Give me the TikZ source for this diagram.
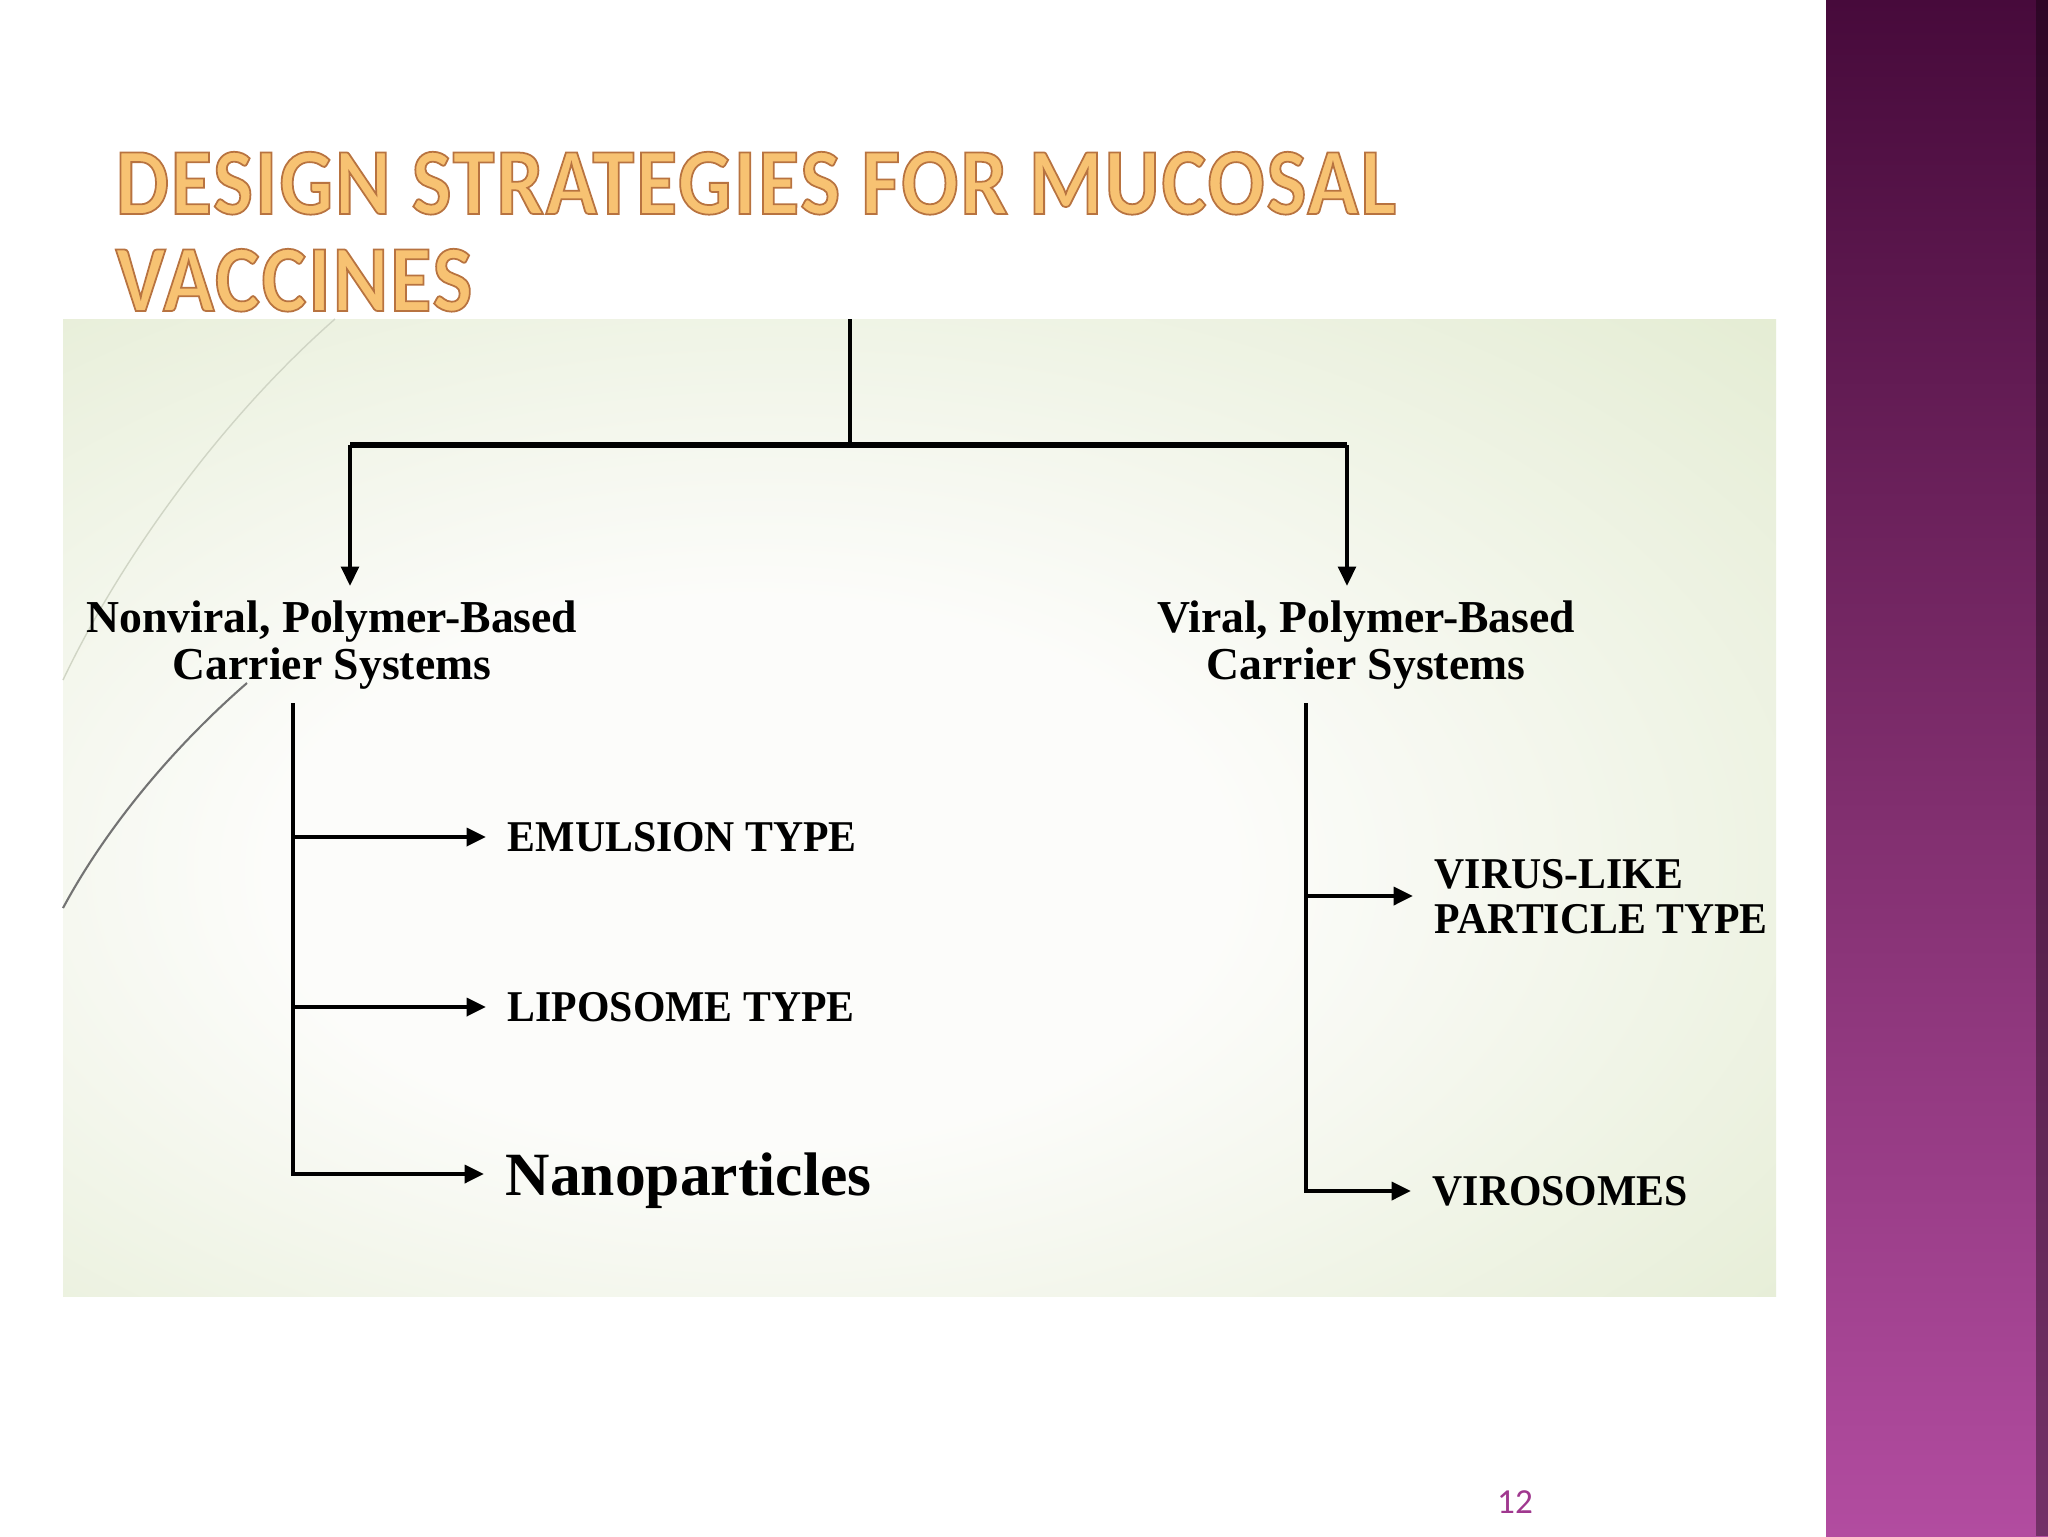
\documentclass[tikz,border=0pt]{standalone}
\usepackage{fontspec}
\usepackage{xcolor}
\usepackage{tikz}
\usetikzlibrary{positioning,calc,arrows.meta,shadings}
\setmainfont{Liberation Serif}
\newfontfamily\leaffont[FakeStretch=0.95]{Liberation Serif}
\newfontfamily\titlefont[LetterSpace=2,FakeStretch=0.89]{Carlito}
\newfontfamily\slidenumfont{Carlito}
\definecolor{panelout}{HTML}{DCE7C6}
\definecolor{panelin}{HTML}{FCFCFA}
\definecolor{plumtop}{HTML}{470A3B}
\definecolor{plummid}{HTML}{7E2D6C}
\definecolor{plumbot}{HTML}{B24CA0}
\definecolor{titlefill}{HTML}{F7C272}
\definecolor{pagenum}{HTML}{A0388F}
\pgfdeclareradialshading{panelglow}{\pgfpoint{-6bp}{-4bp}}{color(0bp)=(panelin); color(14bp)=(panelin); color(48bp)=(panelout); color(80bp)=(panelout)}
\newcommand{\outlined}[1]{\special{pdf:literal direct 2 Tr 0.5 w 0.72 0.45 0.25 RG}#1\special{pdf:literal direct 0 Tr}}

\begin{document}
\begin{tikzpicture}[
    x=0.1mm, y=-0.1mm,
    hdr/.style={font=\fontsize{13}{13.4}\selectfont\bfseries, align=center, inner sep=0pt},
    leaf/.style={font=\leaffont\fontsize{12.5}{12.8}\selectfont\bfseries, align=left, anchor=west, text depth=0pt, inner xsep=6pt, inner ysep=0pt},
    arrow/.style={draw, line width=1.3pt, -{Triangle[length=5.5pt,width=5pt]}},
    bar/.style={draw, line width=1.8pt}
]
\useasboundingbox (0,0) rectangle (2048,1536);
\fill[white] (0,0) rectangle (2048,1536);

% slide decoration
\shade[top color=plumtop, bottom color=plumbot, middle color=plummid] (1826,0) rectangle (2048,1536);
\fill[black, opacity=0.35] (2036,0) rectangle (2048,1536);
\shade[shading=panelglow] (63,319) rectangle (1776,1296);
\draw[panelout!80!black!60, line width=0.4pt] (335,319) .. controls (220,420) and (120,560) .. (63,680);
\draw[black!55, line width=0.6pt] (247,683) .. controls (170,750) and (105,830) .. (63,908);

% title
\node[anchor=base west, inner sep=0pt, align=left, text=titlefill,
      font=\titlefont\bfseries\fontsize{27}{27.6}\selectfont]
  (title) at (115,311) {\outlined{DESIGN STRATEGIES FOR MUCOSAL}\\\outlined{VACCINES}};

% tree
\coordinate (root) at (850,319);
\coordinate (fork) at (850,445);
\coordinate (lsplit) at (350,445);
\coordinate (rsplit) at (1347,445);

\node[hdr] (nonviral) at (332,645) {Nonviral, Polymer-Based\\Carrier Systems};
\node[hdr] (viral) at (1366,645) {Viral, Polymer-Based\\Carrier Systems};

\coordinate (ltop) at (293,703);
\coordinate (rtop) at (1306,703);

\node[leaf] (emulsion) at (486,837) {EMULSION TYPE};
\node[leaf] (liposome) at (486,1007) {LIPOSOME TYPE};
\node[leaf, font=\fontsize{17.5}{17}\selectfont\bfseries] (nano) at (484,1174) {Nanoparticles};
\node[leaf] (vlp) at (1413,896) {VIRUS-LIKE\\PARTICLE TYPE};
\node[leaf] (viro) at (1411,1191) {VIROSOMES};

\draw[line width=1.1pt] (root) -- (fork);
\draw[bar] (lsplit) -- (rsplit);
\draw[arrow, line width=1.1pt, shorten >=4pt] (lsplit) -- (lsplit |- nonviral.north);
\draw[arrow, line width=1.1pt, shorten >=4pt] (rsplit) -- (rsplit |- viral.north);

\draw[arrow] (ltop) |- (nano.west);
\draw[arrow] (ltop |- emulsion.west) -- (emulsion.west);
\draw[arrow] (ltop |- liposome.west) -- (liposome.west);

\draw[arrow] (rtop) |- (viro.west);
\draw[arrow] (rtop |- vlp.west) -- (vlp.west);

% slide number
\node[text=pagenum, font=\slidenumfont\fontsize{10}{10}\selectfont] (pageno) at (1515,1502) {12};
\end{tikzpicture}
\end{document}
